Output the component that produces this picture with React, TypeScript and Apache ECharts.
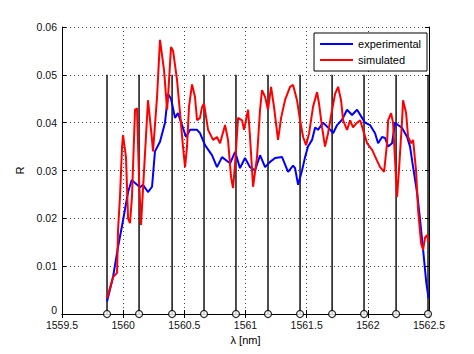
import React, { useEffect, useRef } from "react";
import * as echarts from "echarts";

const X_MIN = 1559.5;
const X_MAX = 1562.5;
const X_STEP = 0.5;
const Y_MIN = 0;
const Y_MAX = 0.06;
const Y_STEP = 0.01;

const STEM_X = [1559.868, 1560.13, 1560.4, 1560.661, 1560.922, 1561.184, 1561.446, 1561.708, 1561.969, 1562.231, 1562.492];
const STEM_TOP = 0.05;

const EXPERIMENTAL: [number, number][] = [
  [1559.868, 0.0026], [1559.917, 0.0077], [1559.958, 0.014], [1560.0, 0.0197], [1560.04, 0.0255],
  [1560.07, 0.028], [1560.097, 0.0274], [1560.138, 0.0265], [1560.162, 0.027], [1560.203, 0.0255],
  [1560.236, 0.0266], [1560.26, 0.034], [1560.301, 0.036], [1560.342, 0.04], [1560.367, 0.046],
  [1560.391, 0.045], [1560.424, 0.041], [1560.448, 0.042], [1560.481, 0.0395], [1560.514, 0.037],
  [1560.547, 0.0385], [1560.604, 0.0385], [1560.628, 0.0378], [1560.669, 0.0353], [1560.726, 0.0332],
  [1560.767, 0.0307], [1560.808, 0.0328], [1560.849, 0.032], [1560.874, 0.0315], [1560.915, 0.0339],
  [1560.955, 0.0305], [1560.996, 0.0326], [1561.037, 0.0307], [1561.078, 0.03], [1561.119, 0.0332],
  [1561.16, 0.0307], [1561.201, 0.0318], [1561.242, 0.0326], [1561.299, 0.0328], [1561.348, 0.0297],
  [1561.389, 0.031], [1561.405, 0.0305], [1561.43, 0.027], [1561.462, 0.03], [1561.487, 0.0328],
  [1561.511, 0.035], [1561.544, 0.0364], [1561.569, 0.039], [1561.593, 0.0385], [1561.634, 0.04],
  [1561.675, 0.039], [1561.716, 0.0378], [1561.749, 0.0395], [1561.789, 0.0406], [1561.83, 0.0427],
  [1561.871, 0.0416], [1561.912, 0.0427], [1561.953, 0.041], [1561.977, 0.04], [1562.018, 0.0395],
  [1562.059, 0.0378], [1562.084, 0.0357], [1562.116, 0.037], [1562.141, 0.0368], [1562.166, 0.035],
  [1562.198, 0.0357], [1562.223, 0.04], [1562.247, 0.0395], [1562.28, 0.0389], [1562.321, 0.037],
  [1562.345, 0.035], [1562.37, 0.0307], [1562.403, 0.0253], [1562.427, 0.0197], [1562.452, 0.0134],
  [1562.478, 0.0065], [1562.496, 0.0033],
];

const SIMULATED: [number, number][] = [
  [1559.868, 0.0033], [1559.917, 0.0077], [1559.95, 0.0086], [1559.958, 0.0175], [1559.974, 0.0245],
  [1559.991, 0.035], [1559.999, 0.0374], [1560.023, 0.0328], [1560.04, 0.02], [1560.056, 0.019],
  [1560.072, 0.0245], [1560.097, 0.0427], [1560.113, 0.043], [1560.13, 0.028], [1560.146, 0.0186],
  [1560.162, 0.026], [1560.195, 0.041], [1560.203, 0.0447], [1560.236, 0.0364], [1560.244, 0.034],
  [1560.277, 0.0454], [1560.301, 0.0573], [1560.334, 0.051], [1560.359, 0.0427], [1560.367, 0.0454],
  [1560.391, 0.0558], [1560.408, 0.055], [1560.44, 0.049], [1560.465, 0.042], [1560.489, 0.035],
  [1560.506, 0.0307], [1560.522, 0.035], [1560.538, 0.0433], [1560.563, 0.048], [1560.587, 0.0454],
  [1560.604, 0.0405], [1560.628, 0.041], [1560.645, 0.0433], [1560.661, 0.044], [1560.694, 0.0385],
  [1560.735, 0.0364], [1560.767, 0.037], [1560.792, 0.0357], [1560.833, 0.0395], [1560.857, 0.0364],
  [1560.882, 0.0286], [1560.898, 0.0263], [1560.915, 0.0315], [1560.939, 0.041], [1560.972, 0.0405],
  [1560.988, 0.0385], [1561.021, 0.0427], [1561.037, 0.037], [1561.062, 0.0266], [1561.094, 0.0328],
  [1561.119, 0.0427], [1561.135, 0.0468], [1561.16, 0.0454], [1561.184, 0.0427], [1561.209, 0.0475],
  [1561.233, 0.0433], [1561.266, 0.0364], [1561.291, 0.041], [1561.323, 0.0447], [1561.364, 0.0475],
  [1561.389, 0.0479], [1561.421, 0.0447], [1561.446, 0.0405], [1561.471, 0.037], [1561.495, 0.0353],
  [1561.52, 0.0378], [1561.552, 0.0433], [1561.585, 0.0464], [1561.601, 0.044], [1561.626, 0.039],
  [1561.65, 0.035], [1561.675, 0.0378], [1561.708, 0.0427], [1561.732, 0.046], [1561.757, 0.0475],
  [1561.781, 0.0447], [1561.798, 0.0405], [1561.83, 0.0385], [1561.855, 0.0405], [1561.879, 0.039],
  [1561.912, 0.04], [1561.937, 0.0405], [1561.961, 0.0385], [1561.994, 0.0357], [1562.035, 0.0343],
  [1562.076, 0.032], [1562.1, 0.0307], [1562.133, 0.0297], [1562.157, 0.0357], [1562.166, 0.0405],
  [1562.19, 0.042], [1562.206, 0.04], [1562.223, 0.032], [1562.239, 0.0245], [1562.256, 0.0307],
  [1562.28, 0.0405], [1562.288, 0.0447], [1562.313, 0.042], [1562.329, 0.037], [1562.354, 0.0357],
  [1562.37, 0.0364], [1562.394, 0.03], [1562.411, 0.0217], [1562.435, 0.0148], [1562.452, 0.0134],
  [1562.468, 0.016], [1562.484, 0.0165], [1562.496, 0.015],
];

const FONT = "Liberation Sans";

export default function App() {
  const ref = useRef<HTMLDivElement>(null);
  useEffect(() => {
    document.body.style.margin = "0";
    const chart = echarts.init(ref.current!, null, { renderer: "svg" });
    const axisLine = { show: true, lineStyle: { color: "#000", width: 1 } };
    const axisTick = { show: true, inside: true, length: 4, lineStyle: { color: "#000" } };
    const labelStyle = { color: "#111", fontSize: 10.5, fontFamily: FONT };
    const grid = { lineStyle: { color: "#444", type: [1, 3] as any, width: 1 } };
    chart.setOption({
      animation: false,
      backgroundColor: "#fff",
      grid: { left: 62, right: 45, top: 27, bottom: 40, containLabel: false },
      legend: {
        data: ["experimental", "simulated"],
        orient: "vertical",
        right: 47,
        top: 33,
        icon: "rect",
        itemWidth: 33,
        itemHeight: 2,
        itemGap: 4,
        padding: [5, 6, 5, 6],
        borderColor: "#000",
        borderWidth: 1,
        backgroundColor: "#fff",
        textStyle: { color: "#000", fontSize: 11, fontFamily: FONT, lineHeight: 12 },
      },
      xAxis: [
        {
          type: "value", min: X_MIN, max: X_MAX, interval: X_STEP,
          axisLine, axisTick,
          axisLabel: { ...labelStyle, margin: 5, formatter: (v: number) => String(+v.toFixed(1)) },
          splitLine: { show: true, ...grid },
          name: "λ [nm]", nameLocation: "middle", nameGap: 20,
          nameTextStyle: { color: "#000", fontSize: 11, fontFamily: FONT },
        },
        {
          type: "value", position: "top", min: X_MIN, max: X_MAX, interval: X_STEP,
          axisLine, axisTick, axisLabel: { show: false }, splitLine: { show: false },
        },
      ],
      yAxis: [
        {
          type: "value", min: Y_MIN, max: Y_MAX, interval: Y_STEP,
          axisLine, axisTick,
          axisLabel: {
            ...labelStyle, margin: 5,
            formatter: (v: number) => (v === 0 ? "{z|0}" : v.toFixed(2)),
            rich: { z: { ...labelStyle, padding: [0, 0, 8, 0] } },
          },
          splitLine: { show: true, ...grid },
          name: "R", nameLocation: "middle", nameGap: 29, nameRotate: 90,
          nameTextStyle: { color: "#000", fontSize: 11, fontFamily: FONT },
        },
        {
          type: "value", position: "right", min: Y_MIN, max: Y_MAX, interval: Y_STEP,
          axisLine, axisTick, axisLabel: { show: false }, splitLine: { show: false },
        },
      ],
      series: [
        {
          type: "custom",
          name: "stems",
          z: 1,
          data: STEM_X.map((x) => [x, STEM_TOP]),
          encode: { x: 0, y: 1 },
          renderItem: (_p: any, api: any) => {
            const p0 = api.coord([api.value(0), 0]);
            const p1 = api.coord([api.value(0), api.value(1)]);
            return {
              type: "line",
              shape: { x1: p0[0], y1: p0[1], x2: p1[0], y2: p1[1] },
              style: { stroke: "#111", lineWidth: 1.5 },
            };
          },
        },
        {
          type: "line",
          name: "experimental",
          z: 2,
          data: EXPERIMENTAL,
          showSymbol: false,
          symbol: "none",
          color: "#0000ff",
          lineStyle: { color: "#0000ff", width: 2 },
        },
        {
          type: "line",
          name: "simulated",
          z: 3,
          data: SIMULATED,
          showSymbol: false,
          symbol: "none",
          color: "#ff0000",
          lineStyle: { color: "#ff0000", width: 2 },
        },
        {
          type: "scatter",
          name: "markers",
          z: 4,
          clip: false,
          data: STEM_X.map((x) => [x, 0]),
          symbol: "circle",
          symbolSize: 7,
          itemStyle: { color: "#fff", borderColor: "#000", borderWidth: 1.3 },
        },
      ],
    });
    return () => chart.dispose();
  }, []);
  return <div ref={ref} style={{ width: 474, height: 354, position: "fixed", left: 0, top: 0 }} />;
}
